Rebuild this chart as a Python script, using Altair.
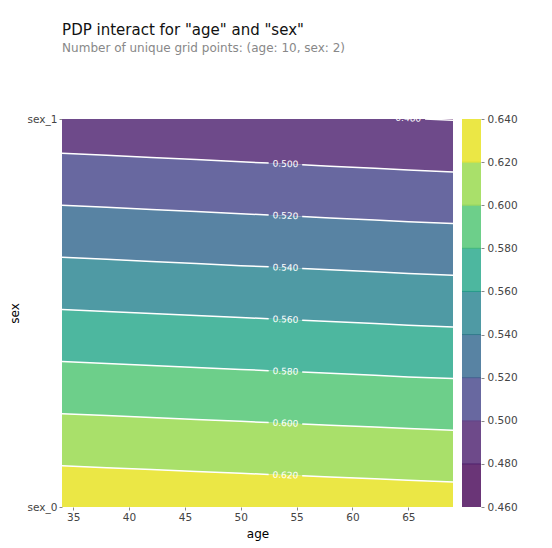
import altair as alt
import numpy as np
import pandas as pd

# PDP grid
ages = [34, 38, 42, 46, 50, 54, 58, 62, 65, 69]
sex0_vals = [0.6358, 0.6351, 0.6344, 0.6337, 0.6330, 0.6323, 0.6316, 0.6309, 0.6303, 0.6297]
sex1_vals = [0.4869, 0.4861, 0.4852, 0.4844, 0.4835, 0.4827, 0.4818, 0.4810, 0.4803, 0.4795]

levels = [0.46, 0.48, 0.50, 0.52, 0.54, 0.56, 0.58, 0.60, 0.62, 0.64]
band_colors = ["#6a3577", "#6e4a8a", "#6868a0", "#5883a3", "#4f9aa4",
               "#4db79f", "#6dcf8a", "#a9e06a", "#ebe745"]
line_levels = [0.48, 0.50, 0.52, 0.54, 0.56, 0.58, 0.60, 0.62]
line_colors = ["#4b1d6b", "#5a4288", "#3f5e8e", "#317a8b", "#249889",
               "#3cb47c", "#8bd35a", "#d8df35"]
label_ages = [65, 54, 54, 54, 54, 54, 54, 54]
x_ticks = [35, 40, 45, 50, 55, 60, 65]

FONT = "DejaVu Sans"
v0 = np.array(sex0_vals)
v1 = np.array(sex1_vals)
a = np.array(ages, dtype=float)


def level_pos(level):
    # position between sex_0 (0) and sex_1 (1) where the value equals level
    return (level - v0) / (v1 - v0)


# filled bands
band_rows = []
for k in range(len(levels) - 1):
    lo = level_pos(levels[k])
    hi = level_pos(levels[k + 1])
    for i, age in enumerate(ages):
        band_rows.append({"band": f"b{k}", "age": age, "y": lo[i], "y2": hi[i]})
bands = pd.DataFrame(band_rows)
band_names = [f"b{k}" for k in range(len(levels) - 1)]

# contour lines broken around their labels
half_gap = 1.5
line_rows, label_rows = [], []
for lev, la in zip(line_levels, label_ages):
    t = level_pos(lev)
    for seg, xs in enumerate([[x for x in ages if x < la - half_gap] + [la - half_gap],
                              [la + half_gap] + [x for x in ages if x > la + half_gap]]):
        for x in xs:
            line_rows.append({"level": lev, "seg": f"{lev}-{seg}", "age": x,
                              "y": float(np.interp(x, a, t))})
    label_rows.append({"age": la, "y": float(np.interp(la, a, t)),
                       "text": f"{lev:.3f}"})
lines = pd.DataFrame(line_rows)
labels = pd.DataFrame(label_rows)

x_enc = alt.X("age:Q", title="age",
              scale=alt.Scale(domain=[34, 69], nice=False, zero=False),
              axis=alt.Axis(values=x_ticks, grid=False, domain=False, tickSize=3,
                            tickColor="#888", labelColor="#444", labelFontSize=10.5,
                            titleFontSize=12, titleFontWeight="normal", labelFont=FONT,
                            titleFont=FONT, titlePadding=6))
y_scale = alt.Scale(domain=[0, 1], nice=False)
y_axis = alt.Axis(values=[0, 1], labelExpr="datum.value == 0 ? 'sex_0' : 'sex_1'",
                  grid=False, domain=False, tickSize=3, tickColor="#888",
                  labelColor="#444", labelFontSize=10.5, titleFontSize=12,
                  titleFontWeight="normal", labelFont=FONT, titleFont=FONT,
                  titlePadding=6)

area = alt.Chart(bands).mark_area(clip=True, interpolate="linear").encode(
    x=x_enc,
    y=alt.Y("y:Q", title="sex", scale=y_scale, axis=y_axis),
    y2="y2:Q",
    color=alt.Color("band:N", scale=alt.Scale(domain=band_names, range=band_colors),
                    legend=None),
    detail="band:N",
)

contour = alt.Chart(lines).mark_line(clip=True, color="white", strokeWidth=1.5).encode(
    x="age:Q", y="y:Q", detail="seg:N"
)

text = alt.Chart(labels).mark_text(clip=True, color="white", fontSize=9, font=FONT,
                                   angle=2, baseline="middle").encode(
    x="age:Q", y="y:Q", text="text:N"
)

main = alt.layer(area, contour, text).properties(width=391, height=388)

cbar_scale = alt.Scale(domain=[0.46, 0.64], nice=False, zero=False)
cbar_df = pd.DataFrame({"band": band_names, "lo": levels[:-1], "hi": levels[1:]})
cbar_rect = alt.Chart(cbar_df).mark_rect().encode(
    x=alt.value(0), x2=alt.value(19),
    y=alt.Y("lo:Q", title=None, scale=cbar_scale,
            axis=alt.Axis(orient="right", values=levels, format=".3f", grid=False,
                          domain=False, tickSize=3, tickColor="#888", labelColor="#444",
                          labelFontSize=10.5, labelFont=FONT, labelPadding=3)),
    y2="hi:Q",
    color=alt.Color("band:N", scale=alt.Scale(domain=band_names, range=band_colors),
                    legend=None),
)
sep_df = pd.DataFrame({"level": line_levels, "col": line_colors})
cbar_sep = alt.Chart(sep_df).mark_rule(strokeWidth=1).encode(
    x=alt.value(0), x2=alt.value(19),
    y=alt.Y("level:Q", scale=cbar_scale),
    color=alt.Color("col:N", scale=None),
)
cbar = alt.layer(cbar_rect, cbar_sep).properties(width=19, height=388)

chart = alt.hconcat(main, cbar, spacing=8).properties(
    title=alt.Title('PDP interact for "age" and "sex"',
                    subtitle="Number of unique grid points: (age: 10, sex: 2)",
                    anchor="start", font=FONT, fontSize=15, fontWeight="normal",
                    color="#111", subtitleFont=FONT, subtitleFontSize=12,
                    subtitleColor="#888", offset=60, subtitlePadding=5, dx=54),
    padding={"left": 0, "top": 15, "right": 5, "bottom": 5},
).configure_view(stroke=None).configure_concat(spacing=8)

chart.save("out.html", embed_options={"renderer": "svg", "actions": False})
